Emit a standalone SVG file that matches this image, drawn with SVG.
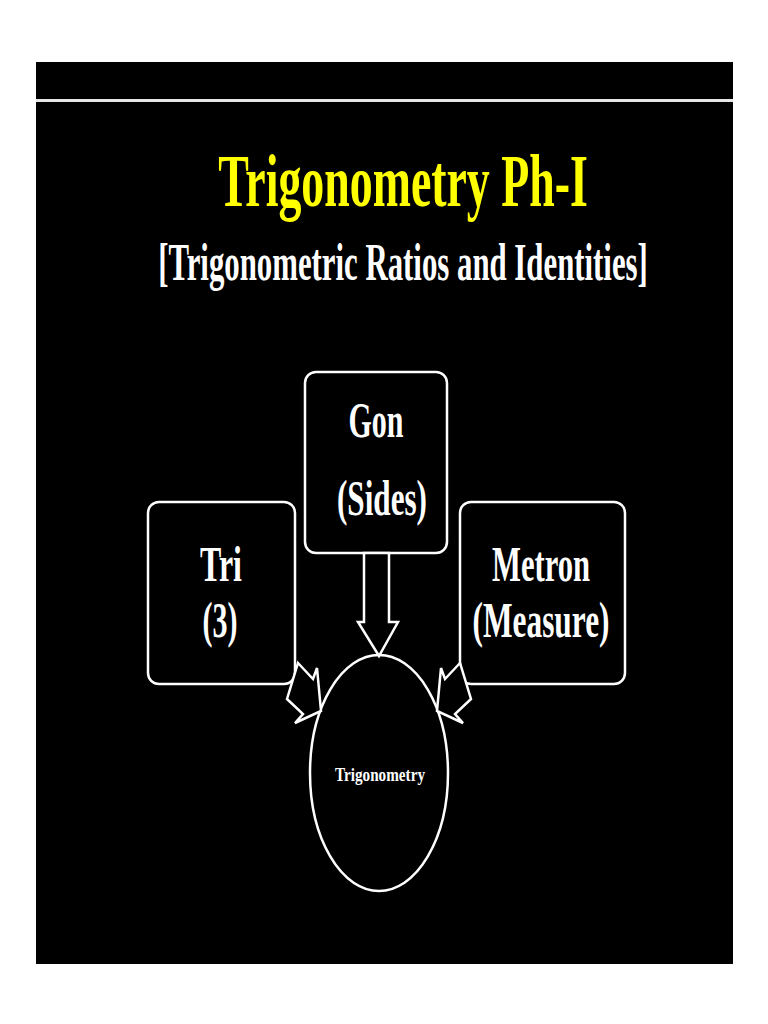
<svg xmlns="http://www.w3.org/2000/svg" width="768" height="1024" viewBox="0 0 768 1024">
<style>
.t{font-family:"Liberation Serif","Times New Roman",serif;font-weight:bold;text-anchor:middle}
.box{fill:#000;stroke:#fff;stroke-width:2.5}
.arr{fill:#000;stroke:#fff;stroke-width:2.5;stroke-linejoin:miter}
</style>
<rect x="0" y="0" width="768" height="1024" fill="#fff"/>
<rect x="36" y="62" width="697" height="902" fill="#000"/>
<line x1="36" y1="100.5" x2="733" y2="100.5" stroke="#e6e6e6" stroke-width="3"/>
<text class="t" transform="translate(403,206) scale(0.615,1)" x="0" y="0" font-size="75" fill="#ffff00" textLength="601" lengthAdjust="spacingAndGlyphs">Trigonometry Ph-I</text>
<text class="t" transform="translate(403,280) scale(0.59,1)" x="0" y="0" font-size="52" fill="#fff" textLength="830" lengthAdjust="spacingAndGlyphs">[Trigonometric Ratios and Identities]</text>
<g id="gon">
<rect class="box" x="305" y="372" width="142" height="181" rx="11"/>
<text class="t" x="376" y="437" font-size="50" fill="#fff" textLength="55" lengthAdjust="spacingAndGlyphs">Gon</text>
<text class="t" x="382" y="515" font-size="50" fill="#fff" textLength="90" lengthAdjust="spacingAndGlyphs">(Sides)</text>
</g>
<g id="tri">
<rect class="box" x="148" y="502" width="147" height="182" rx="11"/>
<text class="t" x="221" y="581" font-size="50" fill="#fff" textLength="42" lengthAdjust="spacingAndGlyphs">Tri</text>
<text class="t" x="220" y="637" font-size="50" fill="#fff" textLength="35" lengthAdjust="spacingAndGlyphs">(3)</text>
</g>
<g id="metron">
<rect class="box" x="460" y="502" width="165" height="182" rx="11"/>
<text class="t" x="541" y="581" font-size="50" fill="#fff" textLength="98" lengthAdjust="spacingAndGlyphs">Metron</text>
<text class="t" x="541" y="637" font-size="50" fill="#fff" textLength="137" lengthAdjust="spacingAndGlyphs">(Measure)</text>
</g>
<g id="trigonometry">
<ellipse class="box" cx="379" cy="773" rx="69" ry="118"/>
<text class="t" x="380" y="781" font-size="19" fill="#fff" textLength="90" lengthAdjust="spacingAndGlyphs">Trigonometry</text>
</g>
<g id="connectors">
<polygon class="arr" points="364,553 389,553 389,622 398,622 379,656 358,622 364,622"/>
<polygon class="arr" points="298,663 313,679 317,668 321,711 295,723 303,714 287,699"/>
<polygon class="arr" points="460,663 445,679 441,668 437,711 463,723 455,714 471,699"/>
</g>
</svg>
